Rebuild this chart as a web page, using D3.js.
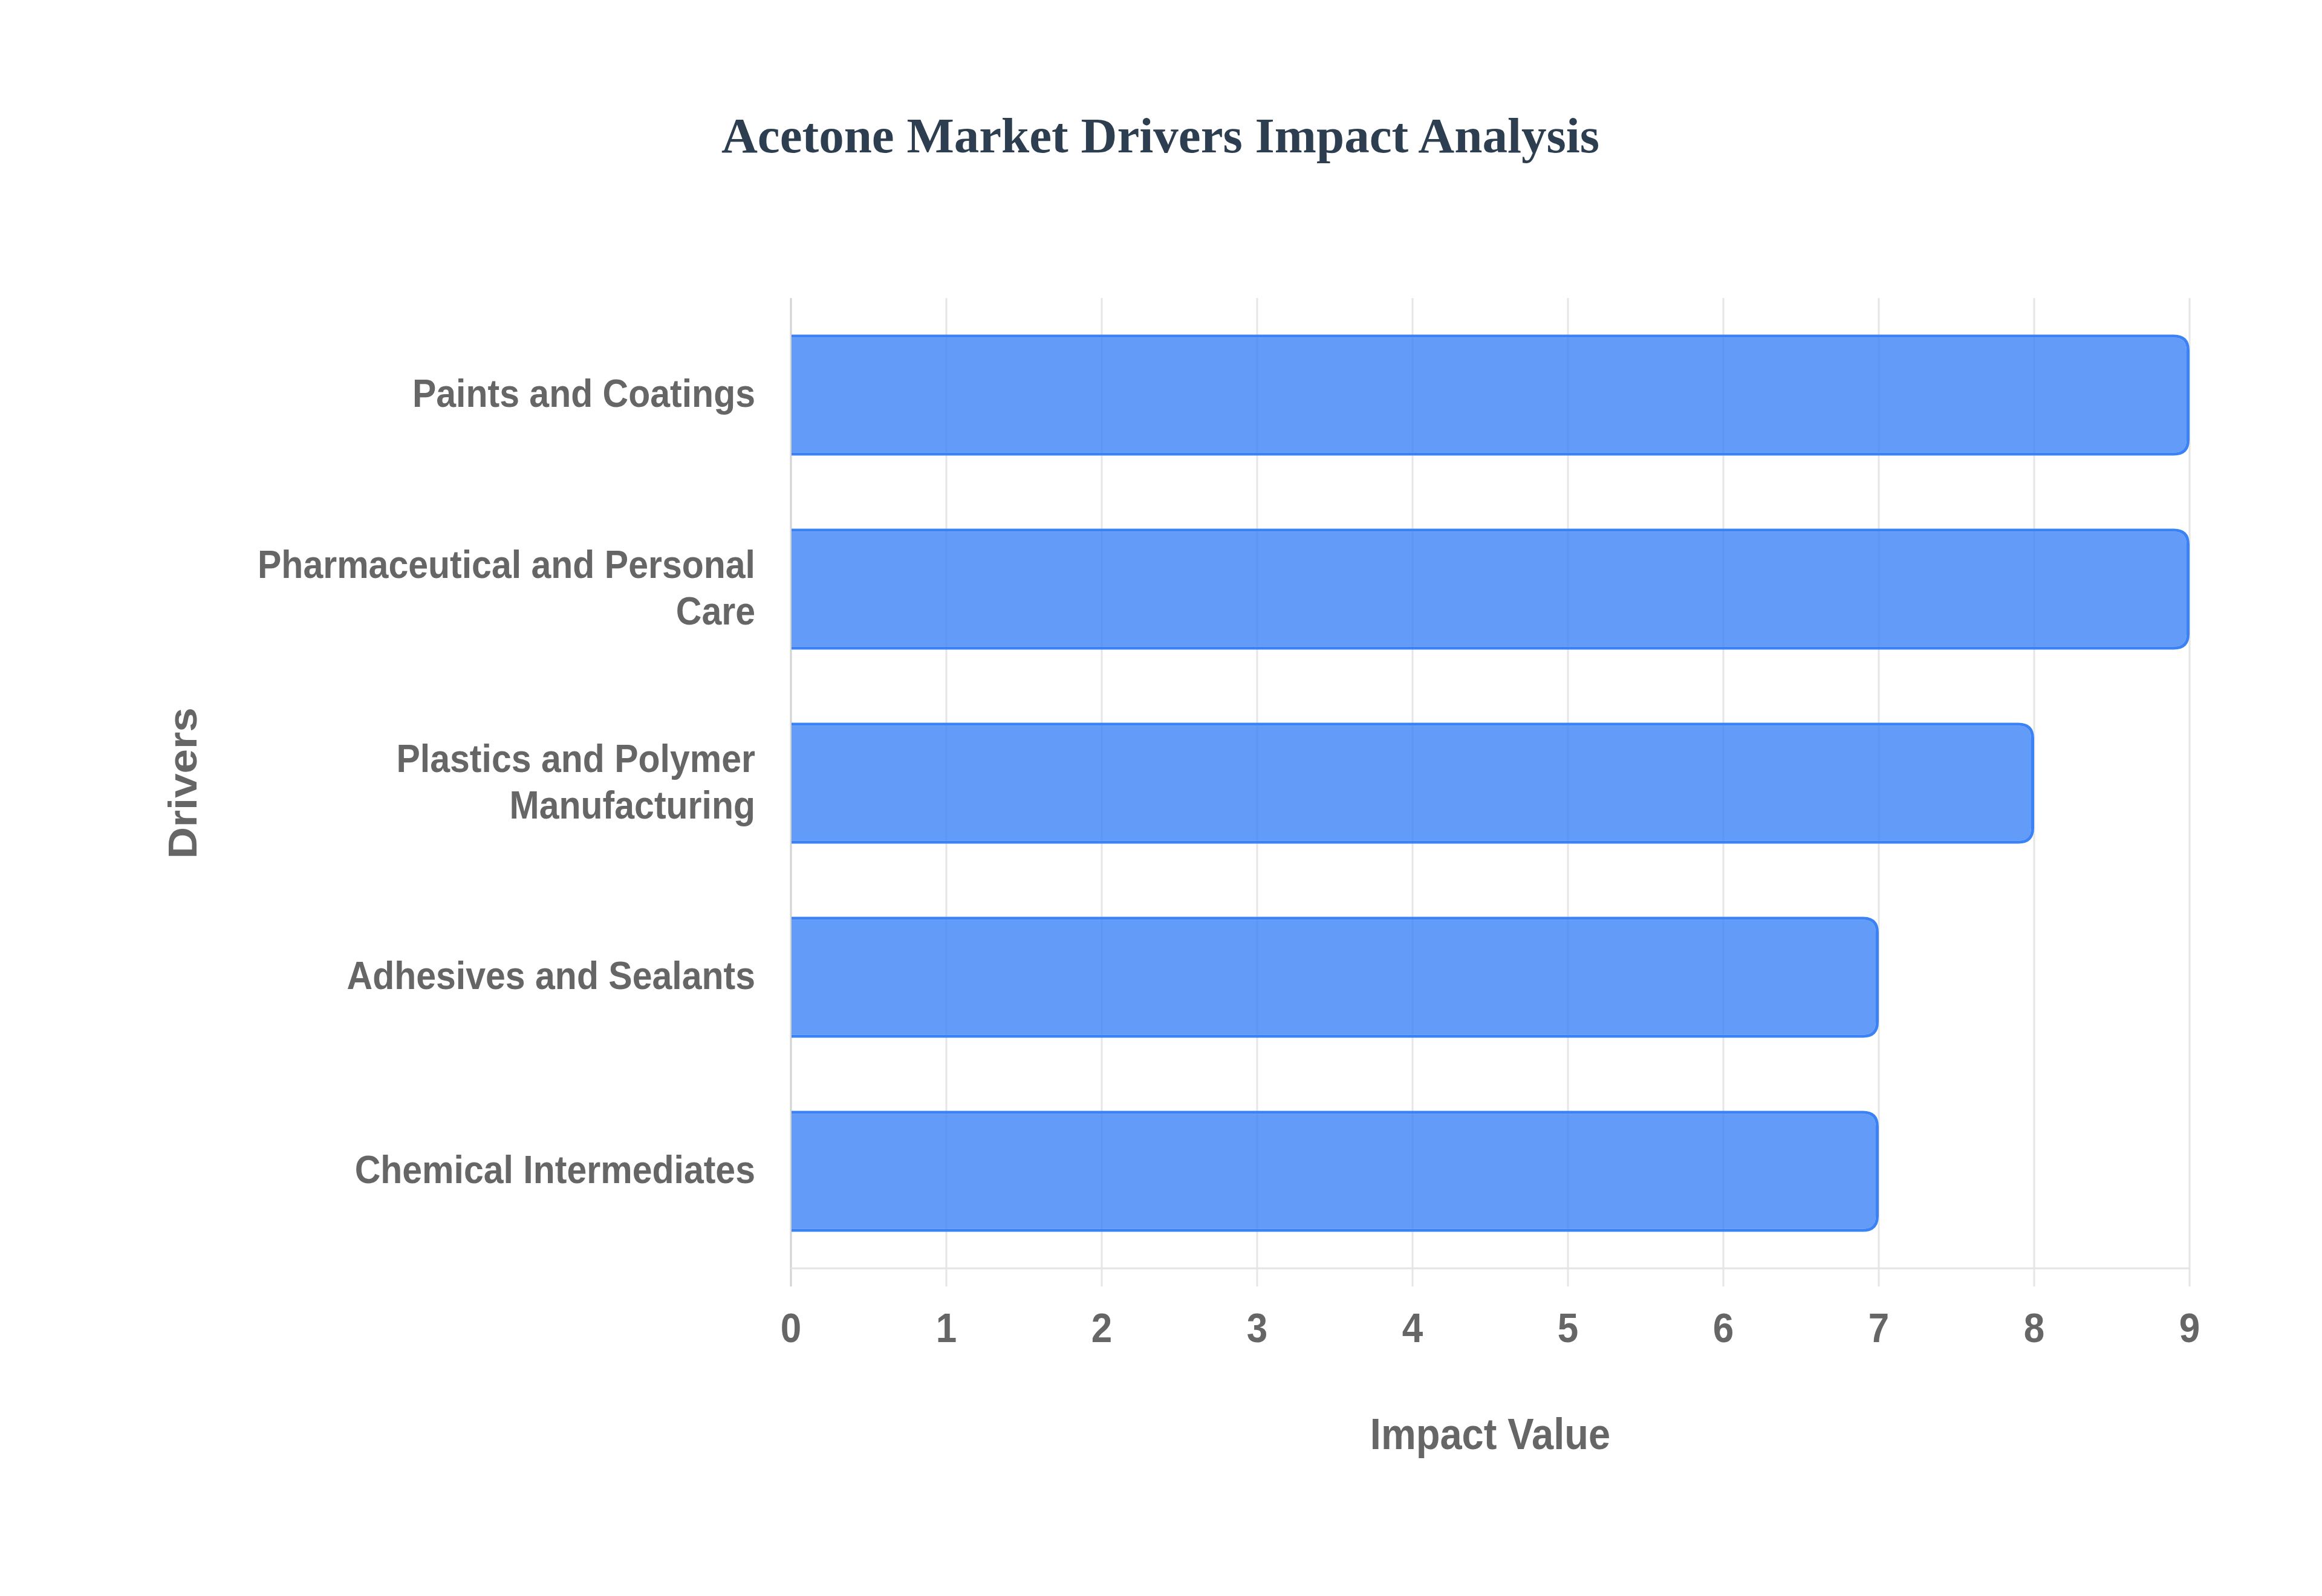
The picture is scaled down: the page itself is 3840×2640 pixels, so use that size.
<!DOCTYPE html>
<html>
<head>
<meta charset="utf-8">
<script src="https://cdn.jsdelivr.net/npm/d3@7"></script>
<style>
  body { margin: 0; background: #fff; }
  text { font-family: "Liberation Sans", Arial, Helvetica, sans-serif; font-weight: bold; }
  text.title { font-family: "Liberation Serif", "Times New Roman", serif; }
</style>
</head>
<body>
<div id="chart"></div>
<script>
// data
var drivers = ["Paints and Coatings", "Pharmaceutical and Personal Care", "Plastics and Polymer Manufacturing", "Adhesives and Sealants", "Chemical Intermediates"];
var driverLines = [["Paints and Coatings"], ["Pharmaceutical and Personal", "Care"], ["Plastics and Polymer", "Manufacturing"], ["Adhesives and Sealants"], ["Chemical Intermediates"]];
var impact = [9, 9, 8, 7, 7];
var xTicks = [0, 1, 2, 3, 4, 5, 6, 7, 8, 9];

var W = 3840, H = 2640;
var plotLeft = 1308, plotRight = 3621, plotTop = 493, plotBottom = 2098;
var stretch = 1.1;   // the picture is a bit taller than it is wide

var svg = d3.select("#chart")
  .append("svg")
    .attr("width", W)
    .attr("height", H);

var x = d3.scaleLinear()
  .domain([0, 9])
  .range([plotLeft, plotRight]);

var pad = 121 / 321;
var y = d3.scaleBand()
  .domain(drivers)
  .range([plotTop, plotBottom])
  .paddingInner(pad)
  .paddingOuter(pad / 2);

// vertical grid lines, running past the axis as ticks
svg.append("g")
  .selectAll("line")
  .data(xTicks)
  .enter().append("line")
    .attr("x1", function(d) { return x(d); })
    .attr("x2", function(d) { return x(d); })
    .attr("y1", plotTop)
    .attr("y2", plotBottom + 30)
    .attr("stroke", function(d) { return d === 0 ? "#d2d2d2" : "#e6e6e6"; })
    .attr("stroke-width", 3);

// x axis line
svg.append("line")
  .attr("x1", plotLeft).attr("x2", plotRight)
  .attr("y1", plotBottom).attr("y2", plotBottom)
  .attr("stroke", "#e4e4e4")
  .attr("stroke-width", 3);

// bars: square at the start, rounded at the end, border skipped on the left
function barPath(x0, x1, y0, y1, r) {
  r = Math.min(r, (y1 - y0) / 2, x1 - x0);
  return "M" + x0 + "," + y0 +
    "H" + (x1 - r) +
    "Q" + x1 + "," + y0 + " " + x1 + "," + (y0 + r) +
    "V" + (y1 - r) +
    "Q" + x1 + "," + y1 + " " + (x1 - r) + "," + y1 +
    "H" + x0 + "Z";
}
var bw = 5, radius = 26;

var bars = svg.append("g")
  .selectAll("g")
  .data(drivers)
  .enter().append("g");

bars.append("path")
  .attr("fill", "#3b82f6")
  .attr("fill-rule", "evenodd")
  .attr("d", function(d, i) {
    var x0 = x(0) + 1, x1 = x(impact[i]), y0 = y(d), y1 = y(d) + y.bandwidth();
    return barPath(x0, x1, y0, y1, radius) +
      barPath(x0, x1 - bw, y0 + bw, y1 - bw, radius - bw);
  });

bars.append("path")
  .attr("fill", "rgba(59,130,246,0.8)")
  .attr("d", function(d, i) {
    var x0 = x(0) + 1, x1 = x(impact[i]), y0 = y(d), y1 = y(d) + y.bandwidth();
    return barPath(x0, x1 - bw, y0 + bw, y1 - bw, radius - bw);
  });

// x tick labels
svg.append("g")
  .selectAll("text")
  .data(xTicks)
  .enter().append("text")
    .attr("transform", function(d) { return "translate(" + x(d) + ",2220) scale(1," + stretch + ")"; })
    .attr("text-anchor", "middle")
    .attr("font-size", 62)
    .attr("fill", "#666")
    .text(function(d) { return d; });

// y tick labels
var lineGap = 77;
var labels = svg.append("g")
  .selectAll("g")
  .data(drivers)
  .enter().append("g");

labels.selectAll("text")
  .data(function(d, i) {
    var lines = driverLines[i], c = y(d) + y.bandwidth() / 2;
    return lines.map(function(t, k) {
      return { t: t, y: c + 19.5 + (k - (lines.length - 1) / 2) * lineGap };
    });
  })
  .enter().append("text")
    .attr("transform", function(d) { return "translate(1249," + d.y + ") scale(1," + stretch + ")"; })
    .attr("text-anchor", "end")
    .attr("font-size", 59)
    .attr("fill", "#666")
    .text(function(d) { return d.t; });

// axis titles
svg.append("text")
  .attr("transform", "translate(" + ((plotLeft + plotRight) / 2) + ",2397) scale(1," + stretch + ")")
  .attr("text-anchor", "middle")
  .attr("font-size", 65)
  .attr("fill", "#666")
  .text("Impact Value");

svg.append("text")
  .attr("transform", "translate(325," + ((plotTop + plotBottom) / 2) + ") rotate(-90) scale(" + stretch + ",1)")
  .attr("text-anchor", "middle")
  .attr("font-size", 66)
  .attr("fill", "#666")
  .text("Drivers");

// title
svg.append("text")
  .attr("class", "title")
  .attr("x", 1919)
  .attr("y", 252)
  .attr("text-anchor", "middle")
  .attr("font-size", 83)
  .attr("fill", "#2c3e50")
  .text("Acetone Market Drivers Impact Analysis");
</script>
</body>
</html>
